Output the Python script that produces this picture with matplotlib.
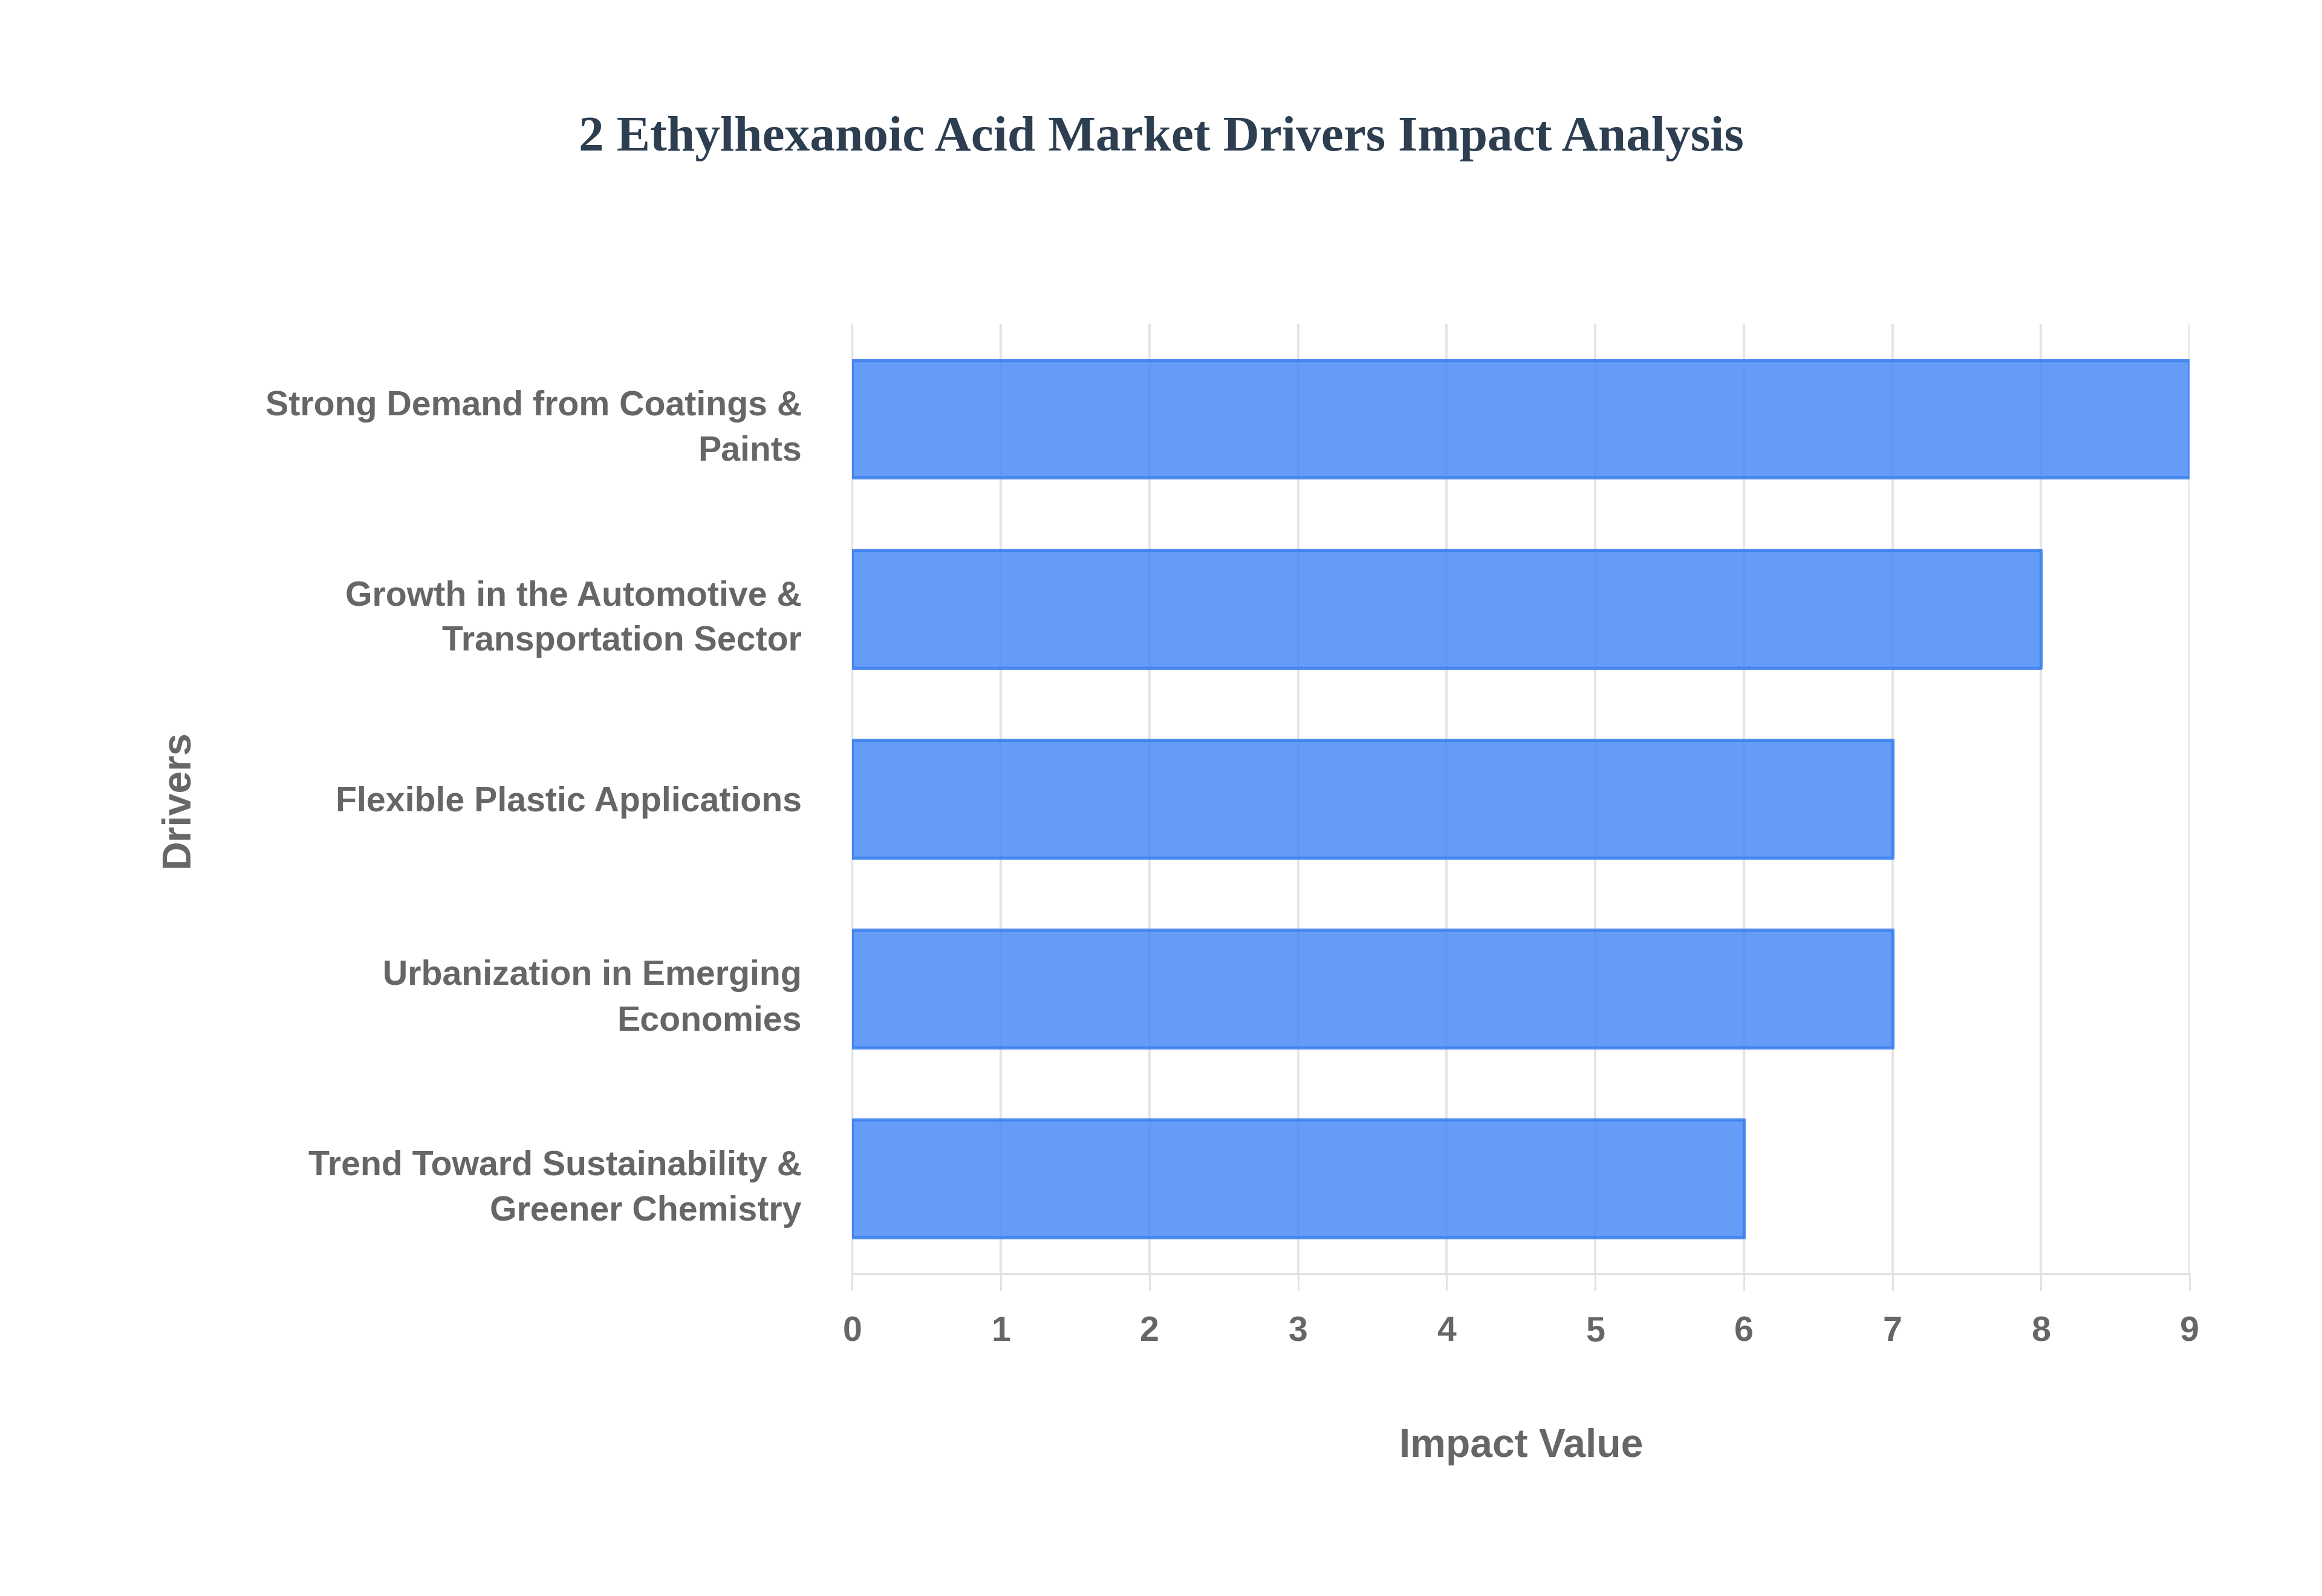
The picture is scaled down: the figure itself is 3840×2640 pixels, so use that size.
import matplotlib
matplotlib.use("Agg")
import matplotlib.pyplot as plt

drivers = ["Strong Demand from Coatings &\nPaints",
           "Growth in the Automotive &\nTransportation Sector",
           "Flexible Plastic Applications",
           "Urbanization in Emerging\nEconomies",
           "Trend Toward Sustainability &\nGreener Chemistry"]
values = [9, 8, 7, 7, 6]
xticks = list(range(10))

fig = plt.figure(figsize=(15.36, 10.56), dpi=250)
ax = fig.add_axes([0.367, 0.202, 0.576, 0.595])
bars = ax.barh(range(len(drivers)), values, height=0.62, color="#4f8ef7", alpha=0.88,
               edgecolor="#3b7ff0", linewidth=1.5, zorder=3)
for b in bars:
    b.set_joinstyle("round")
ax.set_ylim(4.5, -0.5)
ax.set_xlim(0, 9)
ax.set_xticks(xticks)
ax.set_yticks(range(len(drivers)))
ax.set_yticklabels(drivers, linespacing=1.5)
lab = dict(family="Liberation Sans", weight="bold", color="#666666")
for t in ax.get_yticklabels() + ax.get_xticklabels():
    t.set_fontfamily("Liberation Sans"); t.set_fontweight("bold"); t.set_color("#666666"); t.set_fontsize(16.5)
ax.tick_params(axis="y", length=0, pad=24)
ax.tick_params(axis="x", length=8, color="#e0e0e0", pad=12)
ax.grid(axis="x", color="#e5e5e5", linewidth=1.2, zorder=0)
for s in ["top", "right"]:
    ax.spines[s].set_visible(False)
ax.spines["left"].set_color("#e0e0e0")
ax.spines["bottom"].set_color("#e0e0e0")
ax.set_xlabel("Impact Value", fontsize=19, labelpad=38, **lab)
ax.set_ylabel("Drivers", fontsize=19, **lab)
ax.yaxis.set_label_coords(-0.49, 0.5)
fig.text(0.5, 0.913, "2 Ethylhexanoic Acid Market Drivers Impact Analysis", ha="center", va="center",
         fontsize=24, family="Liberation Serif", weight="bold", color="#2c3e50")
fig.savefig("out.png", dpi=250, facecolor="white")
